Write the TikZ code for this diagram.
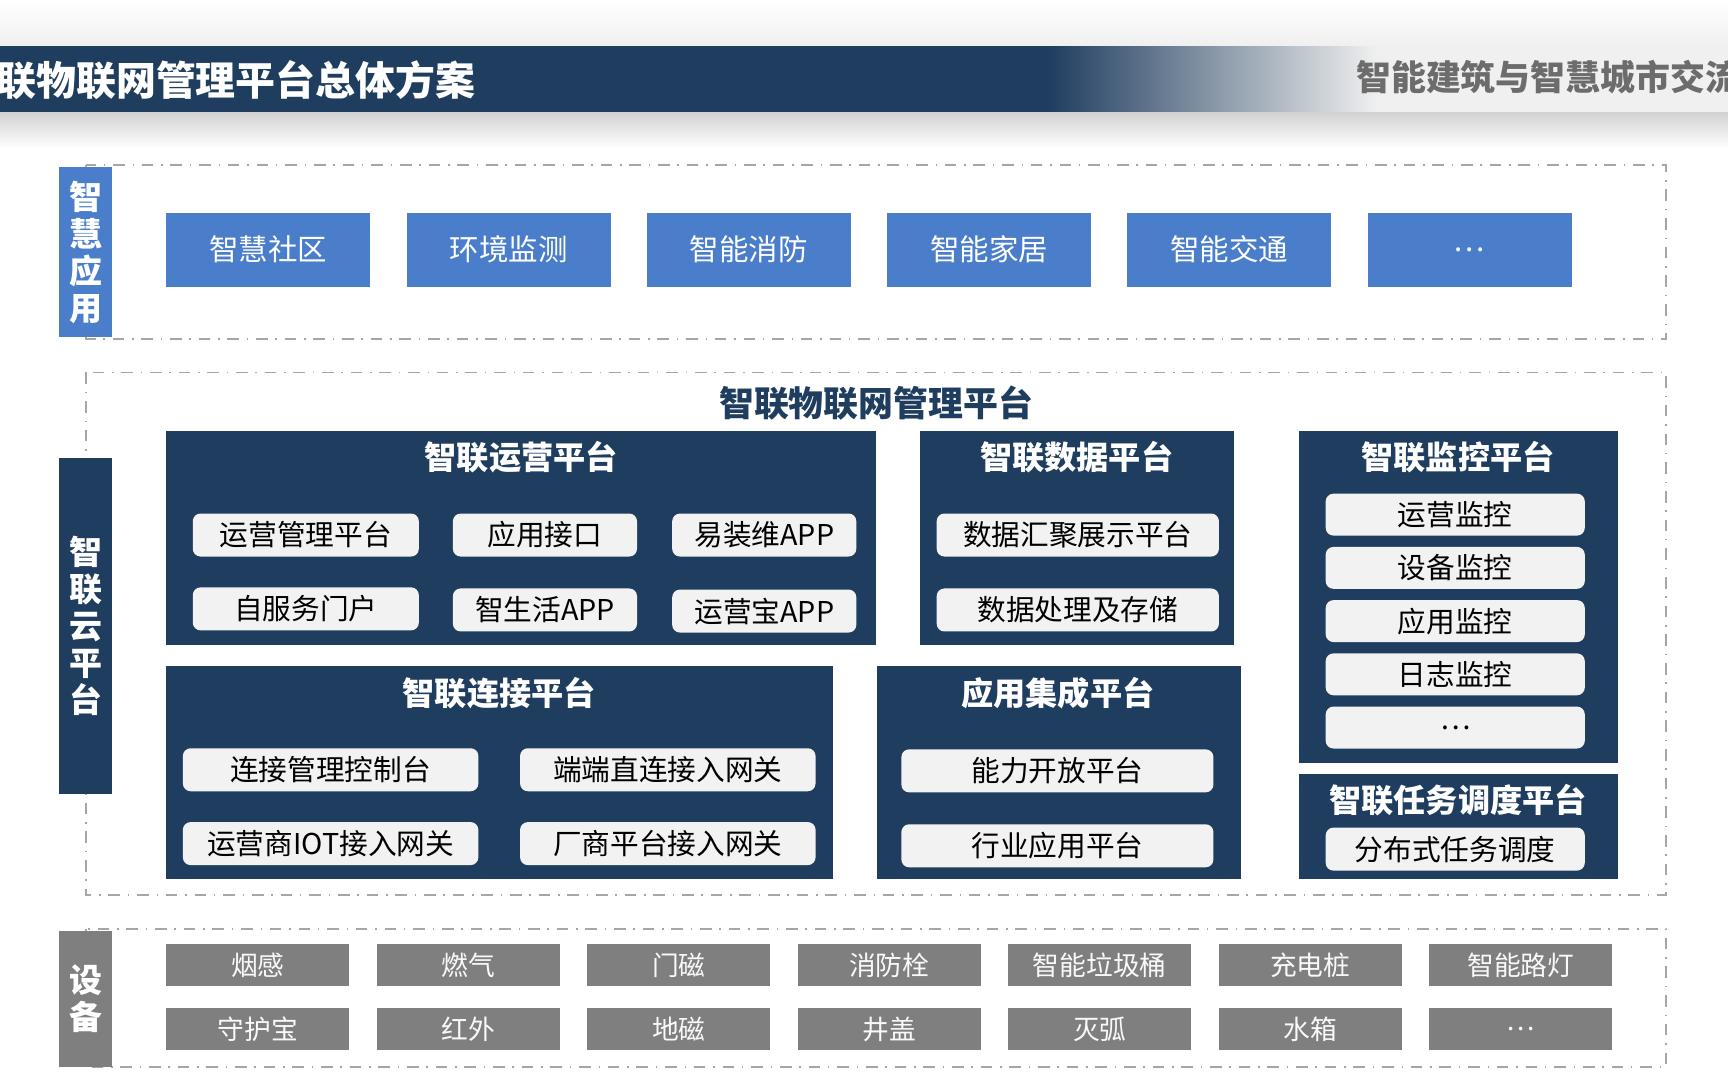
\documentclass[tikz,border=0pt]{standalone}
\usepackage{fontspec}
\setmainfont{Noto Sans CJK SC}
\usetikzlibrary{positioning}
\definecolor{navy}{HTML}{1F3D5F}
\definecolor{appblue}{HTML}{4A7ECB}
\definecolor{devgray}{HTML}{7F7F7F}
\definecolor{pillgray}{HTML}{F2F2F2}
\tikzset{
  zone/.style={draw=gray!70,dash dot,line width=0.5pt},
  sidebox/.style={inner sep=0pt,minimum width=0.48cm,text=white,font=\bfseries\fontsize{8.5}{9.5}\selectfont,align=center},
  appbox/.style={fill=appblue,text=white,minimum width=1.85cm,minimum height=0.67cm,inner sep=0pt,font=\fontsize{7.6}{8}\selectfont},
  platbox/.style={fill=navy,inner sep=0pt},
  plattitle/.style={text=white,font=\bfseries\fontsize{8.3}{9}\selectfont},
  pill/.style={fill=pillgray,rounded corners=2pt,minimum height=0.39cm,inner sep=0pt,font=\fontsize{7.4}{8}\selectfont},
  devbox/.style={fill=devgray,text=white!95!gray,minimum width=1.66cm,minimum height=0.38cm,inner sep=0pt,font=\fontsize{6.9}{7.5}\selectfont}
}
\begin{document}
\begin{tikzpicture}[x=0.01cm,y=-0.01cm]
  \useasboundingbox (0,0) rectangle (1568,980);
  \clip (0,0) rectangle (1568,980);
  % header
  \shade[top color=white,bottom color=gray!12] (0,0) rectangle (1568,42);
  \fill[navy] (0,42) rectangle (950,102);
  \shade[left color=navy,right color=gray!12] (950,42) rectangle (1250,102);
  \fill[gray!12] (1250,42) rectangle (1568,102);
  \shade[top color=gray!35,bottom color=white] (0,102) rectangle (1568,135);
  \node[anchor=west,text=white,font=\bfseries\fontsize{10.3}{11}\selectfont,inner sep=0pt] (title) at (-4,73) {联物联网管理平台总体方案};
  \node[anchor=west,text=gray!85!black,font=\bfseries\fontsize{9}{10}\selectfont,inner sep=0pt] (org) at (1230,70) {智能建筑与智慧城市交流};

  % smart applications
  \draw[zone] (78,150) rectangle (1512,308);
  \node[sidebox,fill=appblue,minimum height=1.54cm] (appside) at (78,229) {智\\慧\\应\\用};
  \foreach \t [count=\i from 0] in {智慧社区,环境监测,智能消防,智能家居,智能交通,…}
    \node[appbox] (app\i) at (243.5+218*\i,226.5) {\t};

  % cloud platform
  \draw[zone] (78,338) rectangle (1512,812);
  \node[sidebox,fill=navy,minimum height=3.04cm] (cloudside) at (78,568) {智\\联\\云\\平\\台};
  \node[text=navy,font=\bfseries\fontsize{9}{10}\selectfont] (cloudtitle) at (795,366) {智联物联网管理平台};

  \fill[navy] (151,391) rectangle (795,585);
  \node[plattitle] (optitle) at (473,415) {智联运营平台};
  \node[pill,minimum width=2.05cm] (op1) at (277.5,485.5) {运营管理平台};
  \node[pill,minimum width=1.67cm] (op2) at (494.5,485.5) {应用接口};
  \node[pill,minimum width=1.67cm] (op3) at (693.5,485.5) {易装维APP};
  \node[pill,minimum width=2.05cm] (op4) at (277.5,552.5) {自服务门户};
  \node[pill,minimum width=1.67cm] (op5) at (494.5,553.5) {智生活APP};
  \node[pill,minimum width=1.67cm] (op6) at (693.5,554.5) {运营宝APP};

  \fill[navy] (835,391) rectangle (1120,585);
  \node[plattitle] (datatitle) at (977,415) {智联数据平台};
  \node[pill,minimum width=2.56cm] (data1) at (978,485.5) {数据汇聚展示平台};
  \node[pill,minimum width=2.56cm] (data2) at (978,553.5) {数据处理及存储};

  \fill[navy] (1179,391) rectangle (1468,692);
  \node[plattitle] (montitle) at (1323,415) {智联监控平台};
  \foreach \t [count=\i from 0] in {运营监控,设备监控,应用监控,日志监控,…}
    \node[pill,minimum width=2.35cm,minimum height=0.38cm] (mon\i) at (1320.5,467+48.3*\i) {\t};

  \fill[navy] (151,604) rectangle (756,798);
  \node[plattitle] (contitle) at (453,629) {智联连接平台};
  \node[pill,minimum width=2.68cm] (con1) at (300,698.5) {连接管理控制台};
  \node[pill,minimum width=2.68cm] (con2) at (606,698.5) {端端直连接入网关};
  \node[pill,minimum width=2.68cm] (con3) at (300,765.5) {运营商IOT接入网关};
  \node[pill,minimum width=2.68cm] (con4) at (606,765.5) {厂商平台接入网关};

  \fill[navy] (796,604) rectangle (1126,798);
  \node[plattitle] (inttitle) at (960,629) {应用集成平台};
  \node[pill,minimum width=2.83cm] (int1) at (959.5,699.5) {能力开放平台};
  \node[pill,minimum width=2.83cm] (int2) at (959.5,767.5) {行业应用平台};

  \fill[navy] (1179,702) rectangle (1468,798);
  \node[plattitle] (tasktitle) at (1323,726) {智联任务调度平台};
  \node[pill,minimum width=2.35cm] (task1) at (1320.5,770.5) {分布式任务调度};

  % devices
  \draw[zone] (78,843) rectangle (1512,968);
  \node[sidebox,fill=devgray,minimum height=1.23cm] (devside) at (78,906.5) {设\\备};
  \foreach \t [count=\i from 0] in {烟感,燃气,门磁,消防栓,智能垃圾桶,充电桩,智能路灯}
    \node[devbox] (devA\i) at (234+191*\i,876) {\t};
  \foreach \t [count=\i from 0] in {守护宝,红外,地磁,井盖,灭弧,水箱,…}
    \node[devbox] (devB\i) at (234+191*\i,934) {\t};
\end{tikzpicture}
\end{document}
